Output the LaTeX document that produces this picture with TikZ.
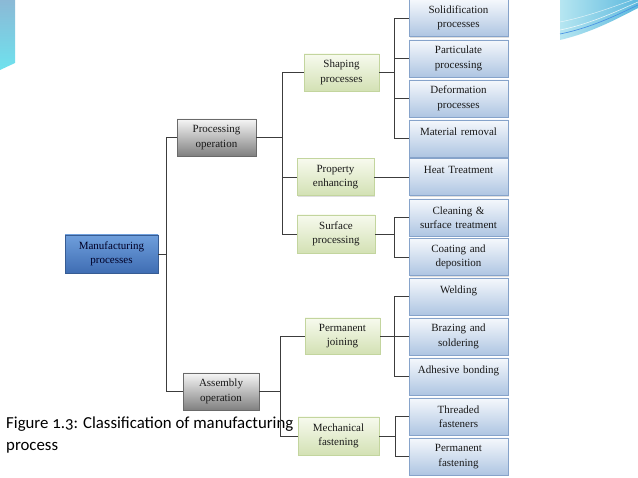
\documentclass[tikz,border=0pt]{standalone}
\usepackage{fontspec}
\setmainfont{Liberation Serif}
\newfontfamily\capfont[Numbers=OldStyle]{Carlito}
\usetikzlibrary{shadows}
\definecolor{linec}{HTML}{3C3C3C}
\definecolor{leaftop}{HTML}{F5F8FC}
\definecolor{leafbot}{HTML}{AEC5E2}
\definecolor{leafdraw}{HTML}{86A3CA}
\definecolor{greentop}{HTML}{F7FAEE}
\definecolor{greenbot}{HTML}{D3E1B4}
\definecolor{greendraw}{HTML}{C3D59E}
\definecolor{graytop}{HTML}{F6F6F6}
\definecolor{graybot}{HTML}{808080}
\definecolor{graydraw}{HTML}{6A6A6A}
\definecolor{rootop}{HTML}{6F9FDC}
\definecolor{roobot}{HTML}{3F6DB3}
\definecolor{roodraw}{HTML}{375C93}
\definecolor{stripA}{HTML}{8BB9D6}
\definecolor{stripB}{HTML}{6EE2EE}
\definecolor{swA}{HTML}{B6E6F1}
\definecolor{swB}{HTML}{5DB9DE}
\tikzset{
  boxbase/.style={rectangle, align=center, inner sep=1pt, outer sep=0pt,
    font=\fontsize{11}{14.5}\selectfont, text=black!90,
    drop shadow={shadow xshift=1pt, shadow yshift=-1.2pt, opacity=0.25}},
  rootbox/.style={boxbase, draw=roodraw, top color=rootop, bottom color=roobot,
    minimum width=93pt, minimum height=38pt, text width=90pt, text=black!85!blue},
  graybox/.style={boxbase, draw=graydraw, top color=graytop, bottom color=graybot,
    minimum height=37pt, text width=74pt},
  greenbox/.style={boxbase, draw=greendraw, top color=greentop, bottom color=greenbot,
    minimum height=37pt, text width=72pt},
  leafbox/.style={boxbase, draw=leafdraw, line width=0.8pt, top color=leaftop, bottom color=leafbot,
    minimum width=99pt, minimum height=37pt, text width=96pt},
  conn/.style={draw=linec, line width=0.9pt},
}
\begin{document}
\begin{tikzpicture}[x=1pt,y=-1pt]
\useasboundingbox (0,0) rectangle (638,478);
\fill[white] (0,0) rectangle (638,478);
% decorations
\shade[top color=stripA, bottom color=stripB] (0,0) -- (15,0) -- (15,63) -- (0,70) -- cycle;
\shade[left color=swA, right color=swB] (560,0) -- (560,40) .. controls (590,33) and (615,20) .. (638,8) -- (638,0) -- cycle;
\draw[white, line width=0.6pt, opacity=0.8] (560,30) .. controls (590,24) and (615,12) .. (638,2);
\draw[swB!80!blue, line width=0.7pt] (560,34) .. controls (590,28) and (615,16) .. (638,5);
\draw[white, line width=0.5pt, opacity=0.7] (560,22) .. controls (590,16) and (615,6) .. (638,-2);
% nodes
\node[rootbox] (mfg) at (111.5,254) {Manufacturing\\processes};
\node[graybox, minimum width=79pt] (proc) at (216.5,137.5) {Processing\\operation};
\node[graybox, minimum width=76pt] (asm) at (221,391.5) {Assembly\\operation};
\node[greenbox, minimum width=75pt] (shape) at (341.5,72.5) {Shaping\\processes};
\node[greenbox, minimum width=77pt] (prop) at (335.5,177) {Property\\enhancing};
\node[greenbox, minimum width=78pt, minimum height=38pt] (surf) at (336,234) {Surface\\processing};
\node[greenbox, minimum width=75pt, minimum height=36pt] (perm) at (342.5,336) {Permanent\\joining};
\node[greenbox, minimum width=81pt, minimum height=38pt] (mech) at (338.5,436) {Mechanical\\fastening};
\node[leafbox] (solid) at (458.5,18) {Solidification\\processes};
\node[leafbox] (partic) at (458.5,58.5) {Particulate\\processing};
\node[leafbox] (deform) at (458.5,98.5) {Deformation\\processes};
\node[leafbox] (matrem) at (458.5,138.5) {Material removal\\\mbox{}};
\node[leafbox] (heat) at (458.5,177) {Heat Treatment\\\mbox{}};
\node[leafbox] (clean) at (458.5,217.5) {Cleaning \&\\surface treatment};
\node[leafbox] (coat) at (458.5,257) {Coating and\\deposition};
\node[leafbox] (weld) at (458.5,296.5) {Welding\\\mbox{}};
\node[leafbox] (braz) at (458.5,336.5) {Brazing and\\soldering};
\node[leafbox] (adhes) at (458.5,376.5) {Adhesive bonding\\\mbox{}};
\node[leafbox] (thread) at (458.5,416.5) {Threaded\\fasteners};
\node[leafbox] (permf) at (458.5,456.5) {Permanent\\fastening};
% caption
\node[anchor=base west, align=left, inner sep=0pt, font=\capfont\fontsize{16.8}{22}\selectfont, text=black]
  (cap) at (6,451) {Figure 1.3: Classification of manufacturing\\process};
% connectors
\coordinate (s0) at (166,254);
\draw[conn] (mfg.east) -- (s0);
\draw[conn] (s0) |- (proc.west);
\draw[conn] (s0) |- (asm.west);
\coordinate (s1) at (282,137.5);
\draw[conn] (proc.east) -- (s1);
\draw[conn] (s1) |- (shape.west);
\draw[conn] (s1) |- (prop.west);
\draw[conn] (s1) |- (surf.west);
\coordinate (s2) at (280,391.5);
\draw[conn] (asm.east) -- (s2);
\draw[conn] (s2) |- (perm.west);
\draw[conn] (s2) |- (mech.west);
\coordinate (s3) at (394,72.5);
\draw[conn] (shape.east) -- (s3);
\foreach \n in {solid,partic,deform,matrem} \draw[conn] (s3) |- (\n.west);
\draw[conn] (prop.east) -- (heat.west);
\coordinate (s4) at (394,234);
\draw[conn] (surf.east) -- (s4);
\foreach \n in {clean,coat} \draw[conn] (s4) |- (\n.west);
\coordinate (s5) at (394,336);
\draw[conn] (perm.east) -- (s5);
\foreach \n in {weld,braz,adhes} \draw[conn] (s5) |- (\n.west);
\coordinate (s6) at (395,436);
\draw[conn] (mech.east) -- (s6);
\foreach \n in {thread,permf} \draw[conn] (s6) |- (\n.west);
\end{tikzpicture}
\end{document}
